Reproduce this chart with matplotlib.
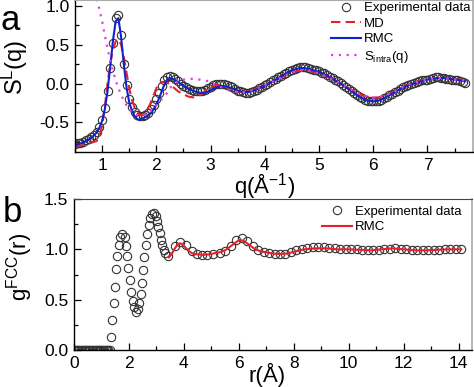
import matplotlib
matplotlib.use("Agg")
import matplotlib.pyplot as plt
from matplotlib.ticker import MultipleLocator

plt.rcParams["font.family"] = ["Liberation Sans", "DejaVu Sans"]
plt.rcParams["mathtext.fontset"] = "custom"
plt.rcParams["mathtext.rm"] = "Liberation Sans"
plt.rcParams["mathtext.it"] = "Liberation Sans"
plt.rcParams["axes.unicode_minus"] = False

# ---- panel a: S^L(q) ----
exp_q = [
    0.50, 0.55, 0.60, 0.65, 0.70, 0.75, 0.80, 0.85, 0.90, 0.95,
    1.00, 1.05, 1.10, 1.15, 1.20, 1.25, 1.30, 1.35, 1.40, 1.45,
    1.50, 1.55, 1.60, 1.65, 1.70, 1.75, 1.80, 1.85, 1.90, 1.95,
    2.00, 2.05, 2.10, 2.15, 2.20, 2.25, 2.30, 2.35, 2.40, 2.45,
    2.50, 2.55, 2.60, 2.65, 2.70, 2.75, 2.80, 2.85, 2.90, 2.95,
    3.00, 3.05, 3.10, 3.15, 3.20, 3.25, 3.30, 3.35, 3.40, 3.45,
    3.50, 3.55, 3.60, 3.65, 3.70, 3.75, 3.80, 3.85, 3.90, 3.95,
    4.00, 4.05, 4.10, 4.15, 4.20, 4.25, 4.30, 4.35, 4.40, 4.45,
    4.50, 4.55, 4.60, 4.65, 4.70, 4.75, 4.80, 4.85, 4.90, 4.95,
    5.00, 5.05, 5.10, 5.15, 5.20, 5.25, 5.30, 5.35, 5.40, 5.45,
    5.50, 5.55, 5.60, 5.65, 5.70, 5.75, 5.80, 5.85, 5.90, 5.95,
    6.00, 6.05, 6.10, 6.15, 6.20, 6.25, 6.30, 6.35, 6.40, 6.45,
    6.50, 6.55, 6.60, 6.65, 6.70, 6.75, 6.80, 6.85, 6.90, 6.95,
    7.00, 7.05, 7.10, 7.15, 7.20, 7.25, 7.30, 7.35, 7.40, 7.45,
    7.50, 7.55, 7.60, 7.65, 7.70,
]
exp_s = [
    -0.78, -0.77, -0.76, -0.75, -0.73, -0.71, -0.69, -0.66, -0.62, -0.56,
    -0.47, -0.32, -0.10, 0.20, 0.52, 0.84, 0.88, 0.62, 0.25, -0.02,
    -0.20, -0.30, -0.36, -0.40, -0.42, -0.42, -0.41, -0.38, -0.33, -0.27,
    -0.20, -0.12, -0.03, 0.05, 0.09, 0.10, 0.09, 0.06, 0.03, 0.00,
    -0.03, -0.05, -0.07, -0.08, -0.09, -0.10, -0.10, -0.10, -0.08, -0.06,
    -0.04, -0.02, -0.01, -0.01, -0.01, -0.01, -0.02, -0.03, -0.05, -0.07,
    -0.09, -0.10, -0.11, -0.12, -0.12, -0.11, -0.10, -0.08, -0.06, -0.04,
    -0.02, 0.00, 0.02, 0.04, 0.06, 0.08, 0.10, 0.12, 0.14, 0.16,
    0.18, 0.19, 0.20, 0.21, 0.21, 0.21, 0.20, 0.19, 0.18, 0.17,
    0.16, 0.14, 0.13, 0.11, 0.09, 0.07, 0.05, 0.03, 0.01, -0.02,
    -0.04, -0.07, -0.10, -0.12, -0.15, -0.17, -0.19, -0.21, -0.22, -0.23,
    -0.23, -0.23, -0.22, -0.21, -0.19, -0.17, -0.15, -0.13, -0.11, -0.09,
    -0.07, -0.05, -0.03, -0.02, 0.00, 0.01, 0.02, 0.03, 0.04, 0.05,
    0.05, 0.06, 0.07, 0.08, 0.08, 0.07, 0.07, 0.06, 0.06, 0.05,
    0.05, 0.04, 0.03, 0.02, 0.01,
]

fit_q = [
    0.50, 0.60, 0.70, 0.80, 0.90, 0.95, 1.00, 1.05, 1.10, 1.15,
    1.20, 1.25, 1.30, 1.35, 1.40, 1.45, 1.50, 1.55, 1.60, 1.65,
    1.70, 1.75, 1.80, 1.85, 1.90, 1.95, 2.00, 2.05, 2.10, 2.15,
    2.20, 2.25, 2.30, 2.40, 2.50, 2.60, 2.70, 2.80, 2.90, 3.00,
    3.10, 3.20, 3.30, 3.40, 3.50, 3.60, 3.70, 3.80, 3.90, 4.00,
    4.10, 4.20, 4.30, 4.40, 4.50, 4.60, 4.70, 4.80, 4.90, 5.00,
    5.10, 5.20, 5.30, 5.40, 5.50, 5.60, 5.70, 5.80, 5.90, 6.00,
    6.10, 6.20, 6.30, 6.40, 6.50, 6.60, 6.70, 6.80, 6.90, 7.00,
    7.10, 7.20, 7.30, 7.40, 7.50, 7.60, 7.70,
]
md_s = [
    -0.80, -0.80, -0.78, -0.76, -0.74, -0.68, -0.55, -0.30, 0.00, 0.25,
    0.44, 0.54, 0.57, 0.50, 0.34, 0.14, -0.06, -0.21, -0.31, -0.37,
    -0.40, -0.41, -0.38, -0.32, -0.24, -0.15, -0.06, 0.00, 0.02, 0.02,
    0.01, -0.01, -0.04, -0.10, -0.14, -0.17, -0.18, -0.15, -0.10, -0.05,
    -0.02, -0.02, -0.04, -0.07, -0.10, -0.11, -0.10, -0.08, -0.05, -0.02,
    0.01, 0.04, 0.08, 0.11, 0.14, 0.16, 0.17, 0.17, 0.15, 0.13,
    0.10, 0.07, 0.04, 0.00, -0.04, -0.08, -0.12, -0.15, -0.17, -0.18,
    -0.18, -0.16, -0.13, -0.10, -0.06, -0.03, 0.00, 0.02, 0.04, 0.05,
    0.06, 0.07, 0.07, 0.06, 0.05, 0.05, 0.04,
]
rmc_s = [
    -0.79, -0.77, -0.74, -0.70, -0.63, -0.57, -0.48, -0.33, -0.10, 0.22,
    0.55, 0.80, 0.84, 0.60, 0.25, -0.05, -0.24, -0.35, -0.42, -0.46,
    -0.47, -0.45, -0.43, -0.41, -0.38, -0.33, -0.27, -0.19, -0.10, -0.01,
    0.05, 0.07, 0.06, 0.02, -0.03, -0.07, -0.10, -0.12, -0.12, -0.09,
    -0.05, -0.03, -0.04, -0.06, -0.09, -0.11, -0.11, -0.09, -0.06, -0.03,
    0.01, 0.05, 0.09, 0.13, 0.17, 0.19, 0.20, 0.19, 0.17, 0.15,
    0.12, 0.08, 0.04, 0.00, -0.05, -0.10, -0.15, -0.19, -0.22, -0.23,
    -0.22, -0.19, -0.15, -0.11, -0.07, -0.04, -0.01, 0.01, 0.03, 0.05,
    0.06, 0.07, 0.07, 0.06, 0.05, 0.04, 0.03,
]
# S_intra starts at q = 0.90 (fit_q[4:])
intra_s = [
    1.10, 0.95, 0.80, 0.62, 0.45, 0.30,
    0.16, 0.04, -0.06, -0.14, -0.22, -0.28, -0.33, -0.37, -0.40, -0.41,
    -0.42, -0.41, -0.40, -0.38, -0.35, -0.31, -0.28, -0.24, -0.20, -0.16,
    -0.12, -0.06, -0.02, 0.03, 0.05, 0.06, 0.06, 0.05, 0.04, 0.02,
    -0.02, -0.05, -0.08, -0.10, -0.11, -0.11, -0.10, -0.08, -0.05, -0.02,
    0.01, 0.04, 0.08, 0.11, 0.14, 0.16, 0.17, 0.17, 0.15, 0.13,
    0.10, 0.07, 0.04, 0.00, -0.04, -0.08, -0.12, -0.15, -0.17, -0.18,
    -0.18, -0.16, -0.13, -0.10, -0.06, -0.03, 0.00, 0.02, 0.04, 0.05,
    0.06, 0.07, 0.07, 0.06, 0.05, 0.05, 0.04,
]

# ---- panel b: g^FCC(r) ----
exp_r = [
    0.00, 0.05, 0.10, 0.15, 0.20, 0.25, 0.30, 0.35, 0.40, 0.45,
    0.50, 0.55, 0.60, 0.65, 0.70, 0.75, 0.80, 0.85, 0.90, 0.95,
    1.00, 1.05, 1.10, 1.15, 1.20, 1.25, 1.30,
    1.35, 1.40, 1.45, 1.50, 1.53, 1.58, 1.64, 1.69, 1.76, 1.84,
    1.88, 1.93, 1.98, 2.03, 2.08, 2.13, 2.17, 2.25, 2.32, 2.38,
    2.43, 2.48, 2.52, 2.56, 2.62, 2.67, 2.72, 2.78, 2.84, 2.92,
    2.97, 3.02, 3.07, 3.12, 3.17, 3.22, 3.27, 3.33, 3.41,
    3.69, 3.87, 4.09, 4.30, 4.48, 4.66, 4.84, 5.05, 5.30, 5.50,
    5.70, 5.90, 6.10, 6.30, 6.50, 6.70, 6.90, 7.10, 7.30, 7.50,
    7.70, 7.90, 8.10, 8.30, 8.50, 8.70, 8.90, 9.10, 9.30, 9.50,
    9.70, 9.90, 10.10, 10.30, 10.50, 10.70, 10.90, 11.10, 11.30, 11.50,
    11.70, 11.90, 12.10, 12.30, 12.50, 12.70, 12.90, 13.10, 13.30, 13.50,
    13.70, 13.90, 14.10,
]
exp_g = [
    0.00, 0.00, 0.00, 0.00, 0.00, 0.00, 0.00, 0.00, 0.00, 0.00,
    0.00, 0.00, 0.00, 0.00, 0.00, 0.00, 0.00, 0.00, 0.00, 0.00,
    0.00, 0.00, 0.00, 0.00, 0.00, 0.00, 0.00,
    0.13, 0.30, 0.47, 0.63, 0.80, 0.93, 1.04, 1.12, 1.15, 1.12,
    1.03, 0.93, 0.81, 0.70, 0.58, 0.49, 0.43, 0.38, 0.41, 0.47,
    0.56, 0.67, 0.79, 0.92, 1.04, 1.15, 1.24, 1.31, 1.35, 1.36,
    1.33, 1.28, 1.22, 1.16, 1.09, 1.04, 0.99, 0.96, 0.93,
    1.03, 1.07, 1.04, 0.98, 0.95, 0.94, 0.94, 0.95, 0.96, 0.98,
    1.03, 1.09, 1.11, 1.08, 1.03, 0.99, 0.97, 0.96, 0.955, 0.95,
    0.955, 0.97, 0.99, 1.00, 1.01, 1.02, 1.02, 1.02, 1.015, 1.01,
    1.005, 1.00, 1.00, 1.00, 0.995, 0.99, 0.99, 0.995, 1.00, 1.005,
    1.01, 1.005, 1.00, 0.995, 0.99, 0.99, 0.99, 0.99, 0.995, 1.00,
    1.00, 1.00, 1.00,
]
rmc_r = [
    3.45, 3.55, 3.65, 3.75, 3.85, 3.95, 4.05, 4.15, 4.30, 4.50,
    4.70, 4.90, 5.10, 5.30, 5.50, 5.70, 5.90, 6.00, 6.10, 6.20,
    6.40, 6.60, 6.80, 7.00, 7.20, 7.40, 7.60, 7.80, 8.00, 8.20,
    8.40, 8.60, 8.80, 9.00, 9.20, 9.40, 9.60, 9.80, 10.00, 10.40,
    10.80, 11.20, 11.60, 12.00, 12.40, 12.80, 13.20, 13.60, 14.10,
]
rmc_g = [
    0.92, 0.95, 1.00, 1.04, 1.06, 1.05, 1.02, 0.99, 0.96, 0.95,
    0.945, 0.95, 0.96, 0.97, 0.99, 1.03, 1.07, 1.09, 1.09, 1.08,
    1.04, 1.00, 0.98, 0.97, 0.96, 0.955, 0.955, 0.96, 0.975, 0.99,
    1.00, 1.005, 1.01, 1.01, 1.01, 1.005, 1.00, 1.00, 1.00, 0.995,
    0.99, 1.00, 1.01, 1.00, 0.99, 0.99, 0.995, 1.00, 1.00,
]

fig = plt.figure(figsize=(4.74, 3.87), dpi=100)
ax1 = fig.add_axes([75 / 474, 1 - 152 / 387, 398 / 474, 152 / 387])
ax2 = fig.add_axes([74 / 474, 1 - 350 / 387, 398 / 474, 151 / 387])

exp_style = dict(ls="none", marker="o", ms=6, mfc="none", mec="#333333", mew=0.8)

ax1.plot(exp_q, exp_s, label="Experimental data", **exp_style)
ax1.plot(fit_q, md_s, color="#e8202a", lw=1.5, ls=(0, (4.5, 2.5)), label="MD")
ax1.plot(fit_q, rmc_s, color="#1022d0", lw=1.5, label="RMC")
ax1.plot(fit_q[4:], intra_s, color="#e040e0", lw=1.6, ls=(0, (1, 2.5)),
         label=r"S$_{\mathrm{intra}}$(q)")
ax1.set_xlim(0.5, 7.84)
ax1.set_ylim(-0.88, 1.073)
ax1.xaxis.set_major_locator(MultipleLocator(1))
ax1.xaxis.set_minor_locator(MultipleLocator(0.5))
ax1.yaxis.set_major_locator(MultipleLocator(0.5))
ax1.yaxis.set_minor_locator(MultipleLocator(0.25))
ax1.set_xlabel(r"q(Å$^{-1}$)", fontsize=16)
ax1.set_ylabel(r"S$^{\mathrm{L}}$(q)", fontsize=17)
ax1.xaxis.set_label_coords(0.477, -0.225)
ax1.xaxis.label.set_va("center")
ax1.yaxis.set_label_coords(-0.151, 0.56)
ax1.yaxis.label.set_va("center")
ax1.legend(loc="upper right", bbox_to_anchor=(1.01, 1.03), frameon=False,
           fontsize=9.5, handlelength=2.3, handletextpad=0.2, labelspacing=0.25,
           borderaxespad=0.1)

ax2.plot(exp_r, exp_g, label="Experimental data", **exp_style)
ax2.plot(rmc_r, rmc_g, color="#e8202a", lw=1.5, label="RMC")
ax2.set_xlim(0, 14.49)
ax2.set_ylim(0, 1.5)
ax2.xaxis.set_major_locator(MultipleLocator(2))
ax2.xaxis.set_minor_locator(MultipleLocator(1))
ax2.yaxis.set_major_locator(MultipleLocator(0.5))
ax2.yaxis.set_minor_locator(MultipleLocator(0.25))
ax2.set_xlabel("r(Å)", fontsize=16)
ax2.set_ylabel(r"g$^{\mathrm{FCC}}$(r)", fontsize=16)
ax2.xaxis.set_label_coords(0.485, -0.166)
ax2.xaxis.label.set_va("center")
ax2.yaxis.set_label_coords(-0.136, 0.55)
ax2.yaxis.label.set_va("center")
ax2.legend(loc="upper right", bbox_to_anchor=(0.99, 1.0), frameon=False,
           fontsize=9.5, handlelength=2.3, handletextpad=0.2, labelspacing=0.25,
           borderaxespad=0.1)

for ax in (ax1, ax2):
    ax.tick_params(which="both", direction="in", top=False, right=False,
                   labelsize=12.5, width=0.9, pad=4)
    ax.tick_params(which="major", length=5)
    ax.tick_params(which="minor", length=3)
    for side in ("left", "bottom"):
        ax.spines[side].set_linewidth(1.0)
    ax.spines["right"].set_color("#aaaaaa")
    ax.spines["right"].set_linewidth(1.2)
ax1.spines["top"].set_color("#aaaaaa")
ax1.spines["top"].set_linewidth(1.5)
ax2.spines["top"].set_color("#444444")

fig.text(10 / 474, 1 - 20 / 387, "a", fontsize=25, ha="center", va="center")
fig.text(12 / 474, 1 - 212 / 387, "b", fontsize=25, ha="center", va="center")

fig.savefig("out.png", dpi=100)
